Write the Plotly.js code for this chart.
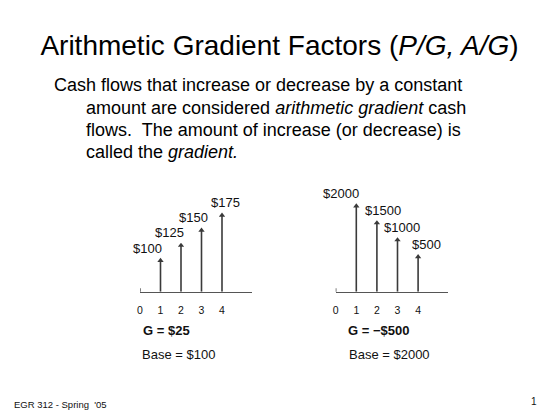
<!DOCTYPE html>
<html>
<head>
<meta charset="utf-8">
<script src="https://cdn.plot.ly/plotly-3.0.1.min.js"></script>
<style>html,body{margin:0;padding:0;background:#fff;}#chart{width:560px;height:420px;}</style>
</head>
<body>
<div id="chart"></div>
<script>
// ---- data ----
const periods = [0, 1, 2, 3, 4];
const tickLabels = ['0', '1', '2', '3', '4'];
const flowPeriods = [1, 2, 3, 4];
const increasingFlows = [100, 125, 150, 175];
const decreasingFlows = [2000, 1500, 1000, 500];
const titleText = 'Arithmetic Gradient Factors (<i>P/G, A/G</i>)';
const bodyLines = [
  'Cash flows that increase or decrease by a constant',
  'amount are considered <i>arithmetic gradient</i> cash',
  'flows.  The amount of increase (or decrease) is',
  'called the <i>gradient.</i>'
];
const footerText = "EGR 312 - Spring  '05";
const pageNumber = '1';

// ---- layout helpers ----
const W = 560, H = 420;
const px = v => v / W;
const py = v => 1 - v / H;
const gothic = '"Liberation Sans", Arial, sans-serif';
const arial = '"Liberation Sans", Arial, sans-serif';
const lineColor = '#3a3a3a';

const leftBase = 48.5, leftTop = 216.8;
const rightBase = -529, rightTop = 2474;

function stemTrace(xs, ys, base, xa, ya) {
  const sx = [], sy = [];
  xs.forEach((x, i) => { sx.push(x, x, null); sy.push(base, ys[i], null); });
  return [
    {x: sx, y: sy, xaxis: xa, yaxis: ya, mode: 'lines', type: 'scatter',
     line: {color: lineColor, width: 1.6}, hoverinfo: 'skip'},
    {x: xs, y: ys, xaxis: xa, yaxis: ya, mode: 'markers', type: 'scatter',
     marker: {symbol: 'triangle-up', size: 5.5, color: lineColor}, hoverinfo: 'skip'}
  ];
}

const data = [
  ...stemTrace(flowPeriods, increasingFlows, leftBase, 'x', 'y'),
  ...stemTrace(flowPeriods, decreasingFlows, rightBase, 'x2', 'y2')
];

const annotations = [];
const leftShifts = [-13, -12, -8, 3];
const rightShifts = [-15, 6, 4, 8];
flowPeriods.forEach((p, i) => {
  annotations.push({x: p, y: increasingFlows[i], xref: 'x', yref: 'y', text: '$' + increasingFlows[i],
    showarrow: false, yanchor: 'bottom', yshift: 3, xshift: leftShifts[i],
    font: {family: gothic, size: 13, color: '#111'}});
  annotations.push({x: p, y: decreasingFlows[i], xref: 'x2', yref: 'y2', text: '$' + decreasingFlows[i],
    showarrow: false, yanchor: 'bottom', yshift: 3, xshift: rightShifts[i],
    font: {family: gothic, size: 13, color: '#111'}});
});

const gLeft = increasingFlows[1] - increasingFlows[0];
const gRight = decreasingFlows[1] - decreasingFlows[0];
const fmtG = g => (g < 0 ? '\u2212$' + Math.abs(g) : '$' + g);
const infoFont = {family: gothic, size: 13, color: '#111'};
annotations.push(
  {x: px(141), y: py(330), xref: 'paper', yref: 'paper', xanchor: 'left', yanchor: 'middle',
   text: '<b>G = ' + fmtG(gLeft) + '</b>', showarrow: false, font: infoFont},
  {x: px(140), y: py(354), xref: 'paper', yref: 'paper', xanchor: 'left', yanchor: 'middle',
   text: 'Base = $' + increasingFlows[0], showarrow: false, font: infoFont},
  {x: px(346), y: py(330), xref: 'paper', yref: 'paper', xanchor: 'left', yanchor: 'middle',
   text: '<b>G = ' + fmtG(gRight) + '</b>', showarrow: false, font: infoFont},
  {x: px(347), y: py(354), xref: 'paper', yref: 'paper', xanchor: 'left', yanchor: 'middle',
   text: 'Base = $' + decreasingFlows[0], showarrow: false, font: infoFont}
);

const bodyY = [85, 107.7, 130, 152.3];
bodyLines.forEach((t, i) => {
  annotations.push({x: px(i === 0 ? 52 : 84), y: py(bodyY[i]), xref: 'paper', yref: 'paper',
    xanchor: 'left', yanchor: 'middle', text: t, showarrow: false,
    font: {family: arial, size: 18, color: '#000'}});
});

annotations.push(
  {x: px(12), y: py(404.5), xref: 'paper', yref: 'paper', xanchor: 'left', yanchor: 'middle',
   text: footerText, showarrow: false, font: {family: gothic, size: 9.5, color: '#111'}},
  {x: px(533.5), y: py(401.5), xref: 'paper', yref: 'paper', xanchor: 'center', yanchor: 'middle',
   text: pageNumber, showarrow: false, font: {family: gothic, size: 10, color: '#111'}}
);

const xAxisCommon = {
  showline: true, linecolor: '#555', linewidth: 1.5, showgrid: false, zeroline: false,
  tickmode: 'array', tickvals: periods, ticktext: tickLabels, ticks: '',
  tickfont: {family: gothic, size: 10.5, color: '#111'}, ticklabelstandoff: 8, fixedrange: true
};

const shapes = [
  {type: 'line', xref: 'x', yref: 'y', x0: 0, x1: 0, ysizemode: 'pixel', yanchor: leftBase, y0: -3.5, y1: 3.5,
   line: {color: '#555', width: 1.5}},
  {type: 'line', xref: 'x2', yref: 'y2', x0: 0, x1: 0, ysizemode: 'pixel', yanchor: rightBase, y0: -3.5, y1: 3.5,
   line: {color: '#555', width: 1.5}}
];

const layout = {
  width: W, height: H,
  margin: {l: 0, r: 0, t: 0, b: 0, pad: 0},
  paper_bgcolor: '#fff', plot_bgcolor: 'rgba(0,0,0,0)',
  showlegend: false,
  title: {text: titleText, x: px(279.5), xanchor: 'center', y: py(45), yanchor: 'middle',
          xref: 'paper', yref: 'paper', font: {family: arial, size: 28, color: '#000'}},
  xaxis: Object.assign({}, xAxisCommon, {domain: [px(140), px(252)], range: [0, 112 / 20.5], anchor: 'y'}),
  yaxis: {domain: [py(291.7), py(190)], range: [leftBase, leftTop], visible: false, fixedrange: true, anchor: 'x'},
  xaxis2: Object.assign({}, xAxisCommon, {domain: [px(335.7), px(447.7)], range: [0, 112 / 20.6], anchor: 'y2'}),
  yaxis2: {domain: [py(291.7), py(190)], range: [rightBase, rightTop], visible: false, fixedrange: true, anchor: 'x2'},
  annotations: annotations,
  shapes: shapes
};

Plotly.newPlot('chart', data, layout, {staticPlot: true, displayModeBar: false});
</script>
</body>
</html>
